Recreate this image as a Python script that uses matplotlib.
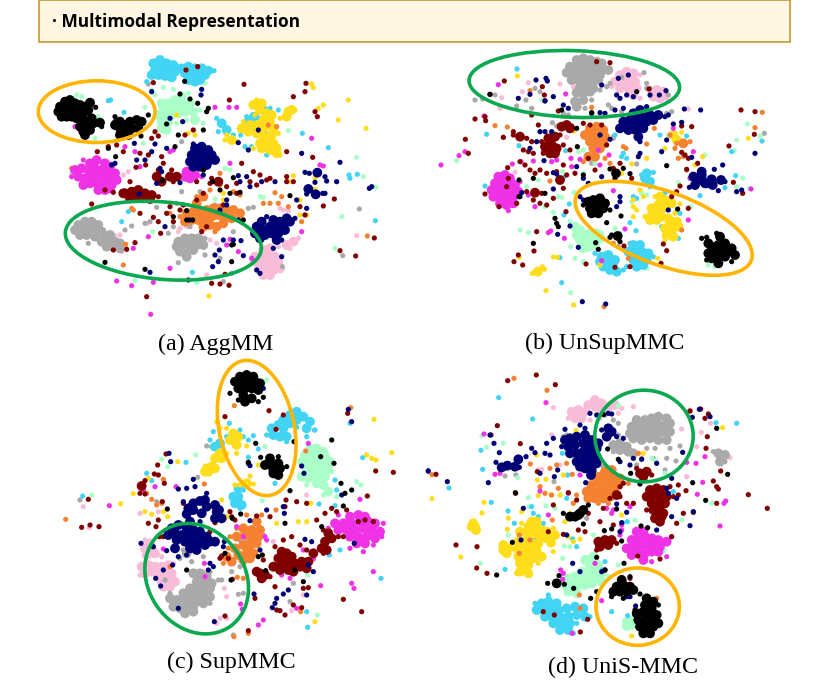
import numpy as np
import matplotlib
matplotlib.use("Agg")
import matplotlib.pyplot as plt
from matplotlib.patches import Ellipse, Rectangle

# Embedding points, one list per class per panel
# (a) AggMM
a_pink = [(700,750),(720,745),(745,740),(770,735),(790,725),(805,715),(675,770),(695,770),(715,770),(735,770),(780,745),(665,790),(685,790),(705,790),(725,790),(745,785),(690,810),(710,815),(730,810),(750,805),(700,825),(720,825),(760,630),(775,632),(750,625),(270,705),(255,708),(275,755),(280,525),(295,515),(352,670),(530,825),(980,707),(560,730),(540,720),(520,715),(470,680),(450,685),(445,695)]
a_gray = [(145,675),(165,665),(185,665),(205,675),(135,690),(155,685),(175,685),(195,690),(215,695),(150,705),(170,705),(195,710),(175,730),(225,715),(240,705),(215,725),(235,725),(255,725),(230,740),(250,740),(270,745),(445,725),(465,715),(485,715),(505,715),(525,715),(440,740),(460,735),(480,735),(500,735),(520,735),(450,755),(470,755),(490,750),(285,690),(305,678),(345,670),(360,665),(380,622),(415,700),(430,680),(480,680),(510,575),(455,575),(440,610),(555,615),(610,695),(570,775),(525,765),(445,788),(470,770),(580,845),(605,820),(668,778),(655,625),(670,622),(730,662),(710,380),(705,395),(757,800),(988,627),(938,767),(455,425),(355,252),(270,730)]
a_mint = [(140,285),(155,290),(135,300),(365,270),(375,285),(395,310),(415,310),(435,300),(455,290),(475,280),(400,330),(420,325),(440,320),(460,315),(480,310),(385,345),(405,350),(425,345),(445,340),(465,335),(490,335),(510,330),(395,365),(415,365),(440,370),(470,360),(495,360),(395,385),(410,390),(520,370),(345,322),(430,268),(400,262),(525,250),(205,350),(195,415),(340,430),(145,515),(125,520),(600,510),(585,505),(690,590),(700,592),(775,392),(555,597),(980,472),(1000,530),(1038,562),(935,650),(915,745),(368,695),(315,842),(500,848)]
a_cyan = [(370,190),(390,180),(410,190),(430,195),(375,210),(395,205),(415,210),(435,215),(365,225),(385,225),(405,228),(425,232),(455,205),(475,200),(495,205),(515,205),(535,212),(552,212),(465,220),(485,222),(505,222),(525,225),(475,240),(495,245),(510,240),(350,245),(235,302),(242,300),(282,337),(560,355),(575,370),(565,395),(590,390),(610,405),(632,405),(645,440),(665,440),(710,465),(650,350),(672,350),(690,355),(705,325),(720,325),(745,330),(895,443),(817,400),(957,525),(960,535),(982,523),(1036,662),(275,665),(295,635),(487,817),(675,385),(655,365)]
a_yellow = [(680,300),(695,310),(670,315),(690,330),(710,340),(725,345),(675,345),(700,360),(720,365),(640,365),(660,375),(680,375),(700,385),(730,385),(750,355),(770,350),(785,330),(795,330),(775,335),(635,385),(655,395),(680,400),(700,410),(725,405),(745,400),(590,405),(605,420),(620,425),(585,420),(690,430),(710,430),(730,430),(670,445),(695,445),(720,450),(740,445),(740,460),(750,465),(955,300),(845,252),(850,263),(880,315),(865,325),(925,360),(1008,385),(475,400),(495,405),(440,345),(790,527),(780,545),(855,533),(855,568),(810,600),(830,645),(810,645),(537,888),(580,580),(580,600)]
a_orange = [(450,650),(470,640),(490,635),(510,640),(530,630),(550,625),(570,625),(590,630),(610,630),(630,640),(465,665),(485,660),(505,660),(525,655),(545,650),(565,645),(585,650),(605,655),(625,660),(520,680),(540,675),(560,680),(580,670),(555,695),(500,590),(520,590),(540,570),(570,555),(500,610),(420,640),(305,625),(310,630),(735,578),(755,590),(700,610),(720,610),(745,610),(775,620),(815,665),(1012,708),(287,733),(280,795),(125,505),(610,575),(630,585),(740,380),(715,375),(570,520)]
a_magenta = [(160,480),(180,490),(200,480),(225,490),(240,500),(135,510),(155,505),(175,510),(195,505),(215,510),(235,515),(255,520),(125,530),(145,530),(165,535),(185,530),(205,530),(225,535),(245,535),(260,540),(180,550),(200,550),(225,555),(245,555),(160,555),(205,570),(225,570),(240,565),(470,515),(485,520),(495,525),(465,530),(480,535),(597,322),(620,322),(555,322),(845,415),(870,495),(880,498),(135,380),(285,440),(315,455),(430,450),(420,455),(355,710),(260,843),(305,857),(370,847),(362,943),(815,695),(600,718),(590,735),(625,755),(665,775),(420,805),(310,745),(330,500),(515,530),(600,490)]
a_darkred = [(285,580),(305,575),(325,570),(345,580),(365,585),(385,590),(300,595),(320,590),(340,595),(360,597),(330,640),(395,470),(400,490),(385,510),(425,510),(380,530),(420,530),(440,530),(430,545),(395,545),(385,545),(468,210),(503,200),(370,248),(642,253),(828,250),(825,275),(790,290),(598,300),(855,335),(862,350),(375,395),(385,408),(365,415),(490,390),(465,405),(260,435),(235,440),(202,455),(280,455),(330,460),(355,465),(318,502),(347,495),(300,545),(225,570),(185,612),(250,577),(280,580),(545,535),(565,545),(635,490),(670,515),(690,525),(710,540),(720,535),(770,455),(848,472),(880,618),(913,597),(770,530),(790,545),(770,545),(660,545),(680,555),(620,580),(590,560),(540,550),(580,615),(450,630),(420,620),(410,640),(430,665),(392,700),(370,652),(385,665),(530,680),(515,695),(315,728),(290,748),(250,750),(545,850),(570,852),(597,856),(350,890),(585,823),(930,752),(977,768),(1033,714),(825,645),(810,620),(620,550),(500,545),(490,490),(500,600),(520,580),(460,615)]
a_navy = [(495,445),(515,440),(535,450),(485,465),(505,460),(525,465),(545,465),(480,485),(500,480),(520,485),(540,480),(555,480),(490,500),(510,500),(530,495),(680,680),(695,665),(710,650),(730,660),(750,665),(770,655),(795,655),(685,700),(700,690),(720,680),(740,680),(760,675),(780,665),(705,705),(725,700),(745,700),(765,690),(690,715),(740,720),(755,720),(730,745),(255,365),(313,430),(375,432),(410,445),(320,480),(345,480),(365,455),(490,432),(390,505),(380,550),(327,582),(395,515),(450,548),(520,525),(590,600),(590,615),(625,527),(650,530),(660,560),(630,545),(570,630),(625,660),(695,545),(735,545),(815,460),(825,517),(838,520),(862,518),(885,530),(890,543),(920,545),(855,547),(835,567),(857,583),(878,580),(885,580),(930,487),(1018,565),(1025,560),(245,495),(255,490),(405,680),(478,660),(580,720),(610,720),(633,722),(680,810),(690,820),(568,750),(555,765),(548,800),(565,785),(360,817),(475,840),(640,767),(755,770),(830,625),(800,600),(830,582),(675,700),(420,355),(458,365),(515,268),(513,285),(365,275),(685,390),(655,450),(625,428)]
a_black = [(90,320),(105,305),(120,300),(135,310),(150,315),(165,320),(180,308),(85,335),(100,330),(115,325),(130,330),(145,335),(160,340),(175,330),(197,322),(95,350),(110,350),(125,350),(140,355),(160,362),(185,355),(150,380),(170,375),(190,370),(210,368),(160,395),(180,390),(215,380),(165,405),(255,350),(270,365),(285,375),(300,365),(320,360),(335,365),(255,375),(270,385),(290,390),(305,385),(325,385),(270,405),(295,405),(355,345),(333,408),(464,244),(450,282),(480,297),(503,310),(535,325),(530,335),(410,372),(520,390),(445,405),(435,440),(235,445),(257,470),(397,542),(520,510),(610,533),(548,545),(570,570),(600,580),(630,577),(470,632),(488,660),(640,660),(780,587),(345,808),(605,785),(605,735),(225,787),(610,733),(470,660),(430,650)]

# (b) UnSupMMC
b_pink = [(600,225),(620,215),(640,220),(660,225),(585,245),(605,245),(625,240),(645,245),(575,260),(600,265),(625,265),(650,265),(640,285),(660,295),(690,275),(710,270),(730,275),(700,290),(720,295),(740,295),(420,252),(325,248),(307,275),(245,293),(240,325),(460,260),(440,412),(805,327),(285,517)]
b_gray = [(470,180),(490,175),(510,180),(530,185),(545,190),(450,200),(470,200),(490,195),(510,200),(530,205),(545,210),(440,218),(460,220),(480,215),(500,220),(520,225),(540,225),(455,240),(475,240),(495,240),(515,245),(535,240),(480,262),(500,260),(520,265),(470,278),(490,280),(510,275),(565,210),(570,250),(560,260),(225,285),(165,300),(188,297),(290,318),(318,300),(335,325),(345,265),(360,275),(430,340),(445,345),(465,305),(490,300),(515,300),(540,270),(565,315),(575,325),(470,320),(495,325),(680,265),(690,265),(745,285),(755,335),(740,340),(605,335),(580,410),(580,415),(250,412),(397,368),(410,378),(515,490),(525,490),(680,250),(672,218),(605,232),(818,522),(825,560),(595,740),(630,730),(735,628),(770,635),(1033,400),(650,492)]
b_mint = [(450,665),(465,680),(480,690),(470,705),(490,705),(510,700),(530,700),(480,720),(500,720),(520,720),(540,715),(505,740),(525,735),(490,745),(545,700),(415,590),(425,592),(400,637),(300,690),(325,698),(462,578),(375,620),(320,560),(365,300),(110,482),(475,455),(490,450),(525,490),(490,520),(428,515),(355,540),(635,605),(665,580),(680,585),(585,685),(600,700),(580,770),(680,805),(865,795),(885,800),(900,795),(982,372),(950,420),(1020,408),(943,452),(855,465),(968,534),(950,560),(989,565),(812,620),(775,548),(452,740),(465,775),(490,785),(452,878),(555,760),(745,405)]
b_cyan = [(640,735),(660,735),(625,755),(645,755),(665,755),(685,760),(700,770),(545,770),(565,765),(540,785),(560,785),(580,790),(550,800),(570,810),(590,815),(610,810),(640,780),(660,780),(680,780),(620,800),(650,800),(670,795),(585,780),(291,207),(200,403),(297,437),(195,558),(420,773),(425,848),(1026,423),(935,455),(610,460),(620,475),(605,470),(437,452),(430,533),(448,612),(432,645),(525,760),(630,668),(648,692),(665,525),(680,520),(700,517),(675,535),(690,545),(650,595),(640,590),(690,560),(735,578),(760,703),(775,715),(745,650),(725,680),(780,640),(840,587),(915,563),(947,527),(828,560),(865,535),(720,405),(800,408),(555,403),(585,405)]
b_yellow = [(705,590),(720,590),(735,600),(695,625),(715,615),(735,620),(755,610),(675,650),(695,645),(715,640),(690,660),(710,660),(725,650),(745,655),(765,640),(750,670),(770,665),(735,685),(755,690),(775,680),(740,705),(760,710),(735,720),(670,590),(660,570),(640,650),(650,630),(640,620),(780,612),(292,228),(400,771),(412,772),(337,820),(353,815),(367,800),(373,808),(378,872),(461,915),(985,415),(848,470),(825,495),(735,445),(680,475),(635,492),(605,520),(755,410),(770,420),(785,397),(760,405),(462,393),(540,795),(713,775),(298,772),(640,600)]
b_orange = [(510,385),(530,380),(550,390),(495,405),(515,405),(535,405),(555,410),(510,425),(530,425),(550,430),(520,445),(540,445),(505,470),(525,470),(570,490),(555,475),(610,440),(618,445),(490,485),(225,377),(262,381),(390,543),(515,322),(460,385),(790,430),(770,430),(765,445),(775,475),(790,470),(810,425),(800,510),(1027,337),(1005,383),(552,920),(703,385),(680,432),(750,405),(580,730),(625,775),(785,690),(330,272)]
b_magenta = [(235,530),(255,525),(270,535),(225,550),(245,550),(265,555),(285,555),(215,570),(235,570),(255,575),(275,575),(295,575),(220,590),(240,590),(260,595),(280,590),(240,610),(260,615),(280,610),(265,632),(300,545),(325,585),(345,620),(63,495),(117,467),(135,455),(192,348),(235,254),(303,485),(277,492),(340,483),(395,485),(410,480),(370,455),(437,282),(453,475),(480,478),(540,495),(567,465),(535,450),(760,385),(810,535),(820,455),(805,660),(993,567),(580,572),(615,687),(433,715),(385,698),(545,782),(392,693),(455,500)]
b_darkred = [(365,425),(385,415),(405,410),(420,405),(375,440),(395,435),(410,445),(370,460),(390,460),(405,460),(310,450),(325,455),(340,460),(300,410),(320,415),(335,425),(280,395),(280,405),(430,435),(425,380),(440,375),(450,385),(355,375),(335,345),(415,333),(165,357),(195,350),(197,362),(136,418),(145,460),(250,412),(253,243),(210,283),(367,260),(373,285),(375,302),(570,188),(530,185),(687,267),(815,380),(785,378),(785,457),(795,465),(805,475),(800,508),(833,490),(780,558),(927,438),(963,330),(1005,335),(1003,403),(968,580),(940,547),(640,395),(600,490),(635,535),(560,435),(490,370),(510,375),(545,375),(455,378),(450,450),(430,495),(505,475),(440,525),(410,515),(380,520),(360,510),(345,520),(330,510),(315,495),(300,485),(263,503),(265,535),(195,582),(237,620),(290,610),(320,575),(345,578),(365,580),(340,600),(360,610),(380,615),(400,595),(430,565),(438,635),(350,695),(342,753),(295,765),(282,785),(308,795),(498,792),(585,802),(630,800),(723,790),(740,752),(730,732),(755,590),(770,575),(805,625),(420,540),(465,520),(525,510),(580,505),(612,738),(260,560)]
b_navy = [(600,385),(620,380),(640,375),(660,370),(680,365),(700,360),(610,365),(630,360),(650,355),(670,350),(690,345),(640,340),(660,330),(680,320),(715,345),(735,350),(745,345),(625,390),(650,390),(670,385),(655,410),(660,425),(590,285),(600,295),(620,285),(640,290),(595,235),(625,225),(348,240),(378,235),(382,243),(330,283),(295,295),(375,303),(400,290),(545,255),(430,315),(445,325),(515,340),(540,338),(555,340),(585,330),(610,325),(690,285),(718,285),(738,272),(793,327),(842,330),(760,372),(785,367),(360,395),(350,425),(330,445),(375,395),(395,395),(372,482),(400,518),(410,522),(400,567),(305,578),(300,590),(470,500),(490,535),(505,550),(545,530),(590,620),(600,605),(600,590),(480,590),(490,600),(450,678),(413,703),(475,742),(660,460),(655,470),(540,405),(570,418),(740,420),(725,455),(815,472),(845,515),(845,525),(883,508),(908,495),(860,550),(875,538),(878,555),(903,540),(915,545),(895,572),(950,575),(965,570),(808,562),(825,555),(843,540),(855,550),(745,630),(487,905),(557,912),(1005,460),(820,530)]
b_black = [(875,740),(895,735),(915,730),(935,745),(865,760),(885,755),(905,750),(925,755),(945,765),(875,775),(895,770),(915,770),(935,785),(895,790),(860,780),(845,715),(860,712),(890,700),(900,710),(865,730),(505,605),(520,600),(540,595),(555,610),(510,625),(530,620),(550,625),(570,630),(515,640),(535,640),(210,283),(650,275),(515,338),(472,440),(470,385),(425,330),(740,497),(570,507),(588,520),(610,505),(630,521),(585,535),(490,525),(297,540),(340,535),(297,590),(375,580),(405,655),(410,670),(415,680),(560,668),(603,648),(490,615),(527,728),(535,748),(575,705),(570,712),(593,708),(340,730),(773,627),(600,725)]

# (c) SupMMC
c_pink = [(345,600),(360,610),(345,625),(365,625),(350,645),(375,640),(395,650),(335,680),(355,675),(375,680),(395,680),(415,675),(430,670),(345,700),(365,695),(385,700),(405,700),(425,700),(330,705),(395,725),(415,725),(435,725),(400,740),(420,740),(330,520),(385,515),(160,500),(178,563),(583,745),(590,770),(520,695),(730,605),(830,465),(785,812),(820,765),(570,835),(590,835),(560,850)]
c_gray = [(500,725),(520,725),(545,730),(480,745),(500,745),(520,745),(540,745),(460,760),(480,765),(500,765),(520,765),(540,770),(440,780),(460,785),(480,785),(500,785),(520,790),(540,790),(430,800),(450,805),(470,805),(490,800),(465,820),(490,815),(540,695),(530,710),(565,720),(575,720),(490,700),(510,700),(500,695),(460,630),(470,640),(485,665),(520,650),(450,655),(605,695),(630,680),(625,763),(640,760),(420,760),(420,775),(405,720),(370,622),(380,485),(530,318),(545,320),(650,605),(630,600),(700,585),(780,785),(790,730),(868,408),(853,270),(150,480),(610,885),(800,675),(503,412)]
c_mint = [(840,325),(860,325),(880,335),(825,345),(845,345),(865,345),(885,350),(900,365),(815,365),(835,365),(855,365),(875,370),(895,385),(830,385),(850,390),(870,385),(905,395),(815,410),(835,415),(860,410),(885,410),(830,435),(860,430),(880,435),(710,120),(700,130),(497,345),(395,358),(413,380),(980,425),(993,435),(752,290),(705,320),(833,705),(862,825),(1015,585),(1035,600),(975,535),(185,465),(697,482),(515,548),(880,465),(895,455),(920,470)]
c_cyan = [(800,215),(780,225),(760,240),(820,230),(840,245),(800,240),(780,250),(745,255),(725,265),(760,265),(800,262),(830,265),(855,270),(710,285),(730,285),(750,290),(770,290),(830,290),(770,305),(570,310),(590,290),(605,280),(630,270),(555,320),(540,300),(580,330),(640,290),(670,287),(655,300),(598,250),(550,275),(685,327),(625,445),(640,450),(610,470),(625,470),(615,490),(635,495),(630,505),(735,430),(920,450),(867,492),(960,250),(998,353),(468,367),(350,400),(158,468),(1053,715),(833,862),(830,815),(898,645),(930,630),(915,420),(655,352),(915,497),(365,422)]
c_yellow = [(560,245),(570,265),(590,265),(610,280),(625,290),(600,300),(620,315),(570,340),(590,340),(555,355),(575,355),(545,380),(530,385),(525,395),(535,395),(555,385),(630,435),(615,435),(650,430),(670,432),(685,375),(660,408),(650,318),(620,340),(1032,238),(1010,345),(1025,355),(1038,360),(1085,338),(443,365),(310,461),(272,491),(345,515),(365,523),(400,515),(413,530),(355,415),(575,480),(855,845),(842,490),(830,545),(740,550),(805,545),(590,530)]
c_orange = [(620,565),(640,565),(665,570),(690,570),(600,590),(620,590),(645,585),(665,590),(685,590),(595,625),(615,625),(640,615),(660,615),(680,610),(625,645),(650,640),(670,640),(640,660),(660,655),(605,665),(590,650),(650,525),(695,525),(738,510),(680,545),(107,538),(400,418),(523,432),(365,478),(380,495),(395,490),(350,460),(613,197),(420,680),(622,712),(640,715),(827,333),(962,203),(655,880),(612,890),(812,815),(540,595),(580,670)]
c_magenta = [(960,530),(985,525),(1005,530),(915,550),(940,550),(965,550),(990,545),(1015,545),(1035,550),(1060,550),(895,565),(925,570),(950,570),(975,570),(1000,565),(1025,570),(1050,575),(960,590),(985,590),(1010,590),(1035,595),(1055,590),(980,610),(1005,610),(1030,615),(960,625),(1000,635),(238,497),(1030,695),(965,730),(972,745),(872,737),(800,805),(685,855),(700,840),(632,792),(637,808),(523,670),(525,710),(438,440),(375,440),(340,450),(400,627),(620,560),(640,590),(705,590),(710,600),(835,310),(780,715),(755,705),(820,630),(850,657),(990,478),(925,525)]
c_darkred = [(755,635),(770,640),(745,655),(765,655),(785,650),(755,675),(775,675),(795,670),(815,665),(835,665),(730,680),(750,690),(775,690),(810,680),(830,685),(790,695),(885,605),(875,625),(890,630),(880,640),(690,700),(705,705),(720,710),(695,715),(735,740),(585,230),(717,212),(738,268),(760,225),(408,342),(383,375),(373,402),(385,405),(345,422),(335,438),(330,460),(345,462),(403,430),(460,490),(397,485),(385,540),(355,550),(378,560),(388,590),(400,590),(175,478),(155,562),(180,555),(207,560),(953,220),(1037,393),(1090,397),(1012,468),(830,490),(800,485),(768,480),(680,528),(720,530),(765,500),(600,515),(605,530),(555,548),(540,575),(615,540),(860,540),(885,520),(905,505),(920,515),(905,595),(925,590),(940,590),(950,510),(985,545),(1005,540),(1030,545),(735,620),(760,600),(785,590),(810,615),(830,630),(850,640),(700,660),(680,695),(820,745),(835,743),(790,795),(740,810),(750,812),(765,825),(815,803),(940,778),(995,815),(655,872),(585,828),(607,718),(595,655),(570,655),(675,775),(575,648),(895,580),(880,570)]
c_navy = [(425,565),(445,555),(470,565),(490,570),(510,575),(530,590),(415,585),(435,580),(455,585),(475,585),(495,590),(515,595),(540,605),(555,605),(440,600),(465,605),(485,610),(505,610),(525,615),(480,625),(500,630),(470,645),(445,650),(417,340),(422,365),(490,418),(495,440),(470,445),(445,447),(490,490),(460,485),(475,505),(490,510),(530,460),(510,483),(525,480),(530,500),(555,495),(560,515),(567,510),(575,535),(470,522),(515,520),(555,535),(510,545),(480,545),(333,610),(370,620),(410,632),(435,625),(400,690),(428,675),(377,715),(392,738),(540,670),(535,690),(550,680),(580,620),(583,605),(660,542),(690,630),(850,695),(835,675),(825,598),(845,605),(815,378),(822,400),(700,145),(660,377),(655,370),(965,245),(955,208),(1195,393),(935,465),(973,610),(760,500),(763,520),(710,510),(672,762),(775,750),(760,762),(740,775),(735,790),(727,803),(553,845),(445,805),(830,765)]
c_black = [(630,110),(650,105),(670,110),(615,125),(635,125),(655,125),(675,125),(690,130),(625,145),(645,145),(665,145),(685,150),(640,165),(625,180),(645,185),(665,175),(685,185),(600,160),(700,172),(720,355),(745,350),(705,375),(725,375),(745,370),(730,390),(750,385),(770,380),(745,405),(730,400),(677,310),(792,305),(905,300),(692,352),(655,367),(872,350),(912,370),(933,430),(965,450),(945,460),(780,452),(940,498),(632,522),(607,535),(765,550),(875,560),(585,640),(685,650),(697,645),(707,692),(795,690),(820,725),(470,690),(412,507),(603,720)]

# (d) UniS-MMC
d_pink = [(525,180),(545,190),(505,195),(525,200),(565,200),(585,195),(605,205),(455,215),(475,210),(495,215),(545,215),(595,220),(445,235),(465,235),(485,235),(510,240),(540,235),(400,203),(395,285),(640,200),(640,250),(785,267),(844,277),(872,250),(930,353),(830,320),(365,388),(355,390),(800,410),(420,375),(810,210)]
d_gray = [(650,240),(675,240),(695,235),(715,230),(740,235),(635,260),(655,260),(675,260),(695,255),(715,255),(735,255),(750,250),(630,280),(650,280),(670,280),(690,280),(710,280),(730,275),(750,275),(640,295),(665,300),(690,295),(715,300),(740,300),(580,315),(600,310),(620,320),(580,335),(600,330),(625,335),(595,285),(580,240),(595,250),(555,225),(430,290),(440,285),(680,325),(705,325),(750,325),(740,355),(768,363),(780,318),(665,355),(650,375),(810,213),(880,335),(895,340),(915,345),(900,365),(915,365),(255,408),(288,405),(550,380),(565,432),(712,440),(402,425),(640,490),(300,600),(315,610),(500,535),(735,390),(700,355),(640,340)]
d_mint = [(520,650),(500,660),(535,675),(510,675),(485,695),(505,695),(525,695),(545,700),(565,710),(445,715),(465,710),(485,715),(505,715),(525,715),(545,725),(435,735),(455,735),(475,735),(495,735),(515,730),(445,755),(470,760),(620,845),(635,855),(620,858),(640,840),(595,197),(250,310),(200,322),(186,287),(293,413),(325,473),(378,498),(405,505),(423,465),(327,500),(265,585),(182,670),(322,675),(390,775),(433,618),(450,620),(428,655),(495,660),(520,585),(535,597),(645,540),(700,480),(785,540),(735,400),(875,490),(733,632),(708,362),(450,810),(370,815),(440,825),(695,355),(595,675)]
d_cyan = [(385,765),(345,790),(365,790),(385,785),(410,790),(350,810),(370,810),(390,810),(415,810),(440,805),(465,800),(490,805),(375,830),(395,830),(420,830),(445,830),(470,825),(495,830),(510,830),(400,850),(425,850),(450,850),(470,850),(420,870),(445,870),(460,880),(236,173),(338,237),(183,331),(188,388),(87,444),(214,487),(255,688),(264,513),(283,550),(335,500),(340,520),(355,530),(370,550),(300,695),(330,705),(345,655),(345,595),(325,600),(293,600),(458,597),(470,620),(440,475),(443,405),(427,340),(575,815),(623,827),(690,790),(950,250),(888,248),(555,665),(622,545),(608,548),(548,690),(760,455)]
d_yellow = [(335,545),(350,545),(305,550),(325,560),(345,560),(365,570),(380,575),(400,565),(300,575),(320,580),(340,580),(360,590),(380,595),(405,585),(295,605),(315,605),(335,610),(355,610),(250,615),(265,625),(250,630),(260,640),(290,625),(310,630),(330,630),(350,630),(365,650),(295,650),(315,650),(340,655),(300,670),(325,675),(355,670),(300,695),(315,690),(290,700),(325,700),(160,550),(165,560),(155,560),(168,570),(186,519),(192,487),(122,651),(36,476),(430,405),(352,420),(378,418),(355,467),(393,465),(420,465),(305,515),(265,535),(262,568),(400,635),(393,608),(445,590),(460,605),(480,597),(435,545),(450,520),(605,525),(468,272),(908,263),(350,345),(670,340),(635,888),(640,355)]
d_orange = [(555,395),(575,390),(540,410),(560,410),(580,410),(600,415),(625,430),(515,435),(535,430),(555,430),(575,430),(595,435),(500,455),(520,455),(540,455),(560,450),(580,450),(505,475),(525,475),(550,475),(570,470),(535,490),(282,115),(381,151),(36,404),(331,372),(390,385),(410,375),(440,370),(457,403),(360,440),(375,460),(395,465),(415,445),(470,465),(460,490),(397,540),(298,585),(330,600),(298,640),(480,805),(478,765),(710,775),(655,340),(565,490),(525,408)]
d_magenta = [(650,575),(670,575),(635,600),(655,595),(675,590),(695,595),(715,600),(620,625),(640,620),(660,615),(680,615),(700,615),(720,620),(740,605),(635,645),(655,640),(675,640),(695,635),(715,635),(740,650),(670,660),(695,665),(755,590),(378,188),(225,403),(240,400),(192,282),(360,453),(480,405),(445,460),(385,525),(475,528),(560,505),(575,520),(605,570),(605,555),(580,510),(800,367),(828,370),(855,350),(848,427),(832,463),(912,490),(917,483),(900,558),(422,690),(430,700),(428,718),(456,880),(600,585),(630,500),(525,670),(545,782)]
d_darkred = [(690,450),(710,445),(730,450),(750,440),(775,435),(680,470),(700,465),(720,470),(740,470),(760,470),(775,465),(695,490),(715,490),(735,490),(680,510),(700,510),(720,510),(705,535),(725,530),(535,605),(555,600),(575,600),(540,620),(565,615),(590,610),(530,630),(660,400),(680,395),(695,405),(670,410),(263,122),(349,105),(406,134),(232,257),(213,285),(301,311),(48,403),(287,460),(108,615),(171,620),(170,684),(201,700),(842,207),(855,235),(865,222),(810,213),(862,290),(858,325),(902,393),(880,423),(890,440),(895,447),(985,464),(1042,505),(890,490),(798,452),(820,517),(790,520),(770,550),(730,520),(720,545),(640,490),(620,490),(600,470),(570,475),(550,505),(540,545),(475,570),(495,575),(430,583),(470,480),(445,458),(400,495),(352,395),(385,575),(505,520),(580,555),(653,648),(720,657),(755,590),(403,825),(503,838),(481,876),(370,815),(630,715),(605,712),(600,440),(590,465),(610,430),(650,385)]
d_navy = [(435,300),(450,295),(470,290),(495,285),(515,300),(535,310),(425,320),(445,320),(465,315),(490,310),(510,320),(530,325),(450,340),(470,340),(490,335),(510,345),(530,350),(470,365),(490,360),(510,365),(530,370),(495,385),(515,390),(480,380),(510,220),(530,225),(565,220),(575,222),(480,255),(495,265),(435,268),(400,295),(380,310),(375,340),(390,345),(565,265),(575,275),(545,270),(560,290),(590,290),(610,295),(25,393),(82,425),(205,428),(238,338),(228,367),(245,382),(262,377),(295,358),(318,350),(285,380),(298,382),(335,325),(345,338),(222,310),(210,285),(252,385),(360,400),(413,390),(403,410),(497,428),(513,405),(310,505),(303,600),(458,670),(480,695),(545,695),(555,690),(640,355),(665,358),(630,375),(600,365),(710,370),(740,445),(745,460),(755,415),(770,475),(755,530),(820,515),(810,557),(710,570),(605,548),(600,575),(440,585),(590,492),(620,517),(788,337),(838,208),(870,230),(817,232),(630,770),(647,798),(620,770)]
d_black = [(680,775),(700,785),(715,795),(675,795),(695,805),(650,820),(670,815),(690,820),(710,825),(655,840),(675,840),(695,840),(715,850),(660,860),(680,860),(700,860),(670,880),(690,880),(645,810),(605,720),(630,710),(590,740),(610,735),(630,740),(580,755),(600,755),(620,755),(640,750),(610,775),(660,762),(575,770),(551,224),(563,327),(595,358),(632,400),(660,432),(890,265),(818,428),(923,403),(857,481),(286,458),(230,705),(277,607),(430,520),(450,530),(465,530),(480,520),(490,510),(505,495),(490,552),(553,572),(575,567),(605,603),(663,558),(683,563),(530,652),(555,690),(612,670),(383,730),(410,730),(417,707),(433,733),(461,745),(512,775),(530,755),(475,525),(590,507)]

captions = ["(a) AggMM", "(b) UnSupMMC", "(c) SupMMC", "(d) UniS-MMC"]
banner_title = "\u00b7 Multimodal Representation"

colors = ['#f8bbd8', '#a9a9a9', '#aaffc8', '#42d4f4', '#ffdd1a', '#f58231', '#f032e6', '#800000', '#000075', '#000000']
GREEN = '#0aa84f'
AMBER = '#ffb400'

panels = [
    ((30, 0, 400, 340), [a_pink, a_gray, a_mint, a_cyan, a_yellow, a_orange, a_magenta, a_darkred, a_navy, a_black]),
    ((420, 0, 400, 340), [b_pink, b_gray, b_mint, b_cyan, b_yellow, b_orange, b_magenta, b_darkred, b_navy, b_black]),
    ((30, 340, 400, 344), [c_pink, c_gray, c_mint, c_cyan, c_yellow, c_orange, c_magenta, c_darkred, c_navy, c_black]),
    ((420, 340, 400, 344), [d_pink, d_gray, d_mint, d_cyan, d_yellow, d_orange, d_magenta, d_darkred, d_navy, d_black]),
]
# centre x, centre y, width, height, angle, colour
rings = [
    [(200, 335, 350, 185, 0, AMBER), (400, 722, 590, 232, 5, GREEN)],
    [(463, 252, 632, 200, 2, GREEN), (731, 685, 560, 220, 20, AMBER)],
    [(680, 264, 412, 225, 78, AMBER), (500, 716, 350, 290, 55, GREEN)],
    [(672, 288, 295, 275, 0, GREEN), (653, 800, 250, 232, 0, AMBER)],
]
caption_pos = [(216, 344), (605, 343), (231, 662), (623, 667)]

fig = plt.figure(figsize=(8.3, 6.84), dpi=100)

# banner
fig.add_artist(Rectangle((39/830, 1-41.5/684), 751/830, 42/684, transform=fig.transFigure,
                         facecolor='#fff6e3', edgecolor='#c39a2f', linewidth=1.2))
fig.text(52/830, 1-22/684, banner_title, fontsize=12.5, fontweight='bold', family='Open Sans',
         va='center', ha='left', color='black')

for (box, groups), ring_set in zip(panels, rings):
    x0, y0, w, h = box
    ax = fig.add_axes([x0/830, 1-(y0+h)/684, w/830, h/684])
    ax.set_xlim(0, w*3)
    ax.set_ylim(h*3, 0)
    ax.axis('off')
    for pts, col in zip(groups, colors):
        pts = np.array(pts)
        # tightly packed points merge into a solid cluster, so draw those fatter
        dist = np.hypot(pts[:, 0, None] - pts[:, 0], pts[:, 1, None] - pts[:, 1])
        neighbours = (dist < 30).sum(axis=1) - 1
        sizes = np.where(neighbours >= 3, 50, 14)
        ax.scatter(pts[:, 0], pts[:, 1], s=sizes, color=col, linewidths=0)
    for cx, cy, ew, eh, ang, col in ring_set:
        ax.add_patch(Ellipse((cx, cy), ew, eh, angle=ang, fill=False, edgecolor=col, linewidth=2.6, zorder=5))

for cap, (cx, cy) in zip(captions, caption_pos):
    fig.text(cx/830, 1-cy/684, cap, fontsize=17.3, family='Liberation Serif', ha='center', va='center')

fig.savefig('out.png', dpi=100)
